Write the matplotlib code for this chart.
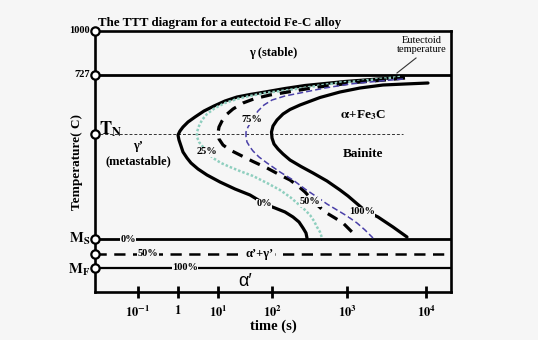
import matplotlib
matplotlib.use("Agg")
import matplotlib.pyplot as plt

plt.rcParams['mathtext.fontset'] = 'stix'
SERIF = ['Liberation Serif', 'DejaVu Serif']

# ---- schematic coordinates: x = position along (log) time axis, y = schematic temperature ----
tick_pos = [43, 83, 123, 177, 252, 331]
tick_labels = [r'$\mathbf{10^{-1}}$', r'$\mathbf{1}$', r'$\mathbf{10^{1}}$',
               r'$\mathbf{10^{2}}$', r'$\mathbf{10^{3}}$', r'$\mathbf{10^{4}}$']

T_top, T_eut, T_N, T_Ms, T_M50, T_Mf = 261, 217, 158, 53, 38, 24

c0_x = [308, 290, 270, 250, 230, 210, 190, 170, 155, 142, 130, 119, 109, 100, 93, 88, 85, 83,
        84, 86, 88, 92, 96, 103, 112, 125, 140, 155, 165, 172, 180, 190, 198, 204, 208, 211, 212]
c0_y = [215, 213.5, 212, 210.5, 208.5, 206.5, 203.5, 200, 197.5, 195, 191, 186, 181, 175, 170, 165, 161, 157,
        152, 146, 140, 134, 129, 123, 117, 110, 103, 97, 91, 87, 84, 80, 75, 70, 64, 59, 54]

c25_x = [305, 280, 260, 245, 225, 208, 190, 170, 155, 142, 130, 120, 112, 107, 104, 102, 102, 104,
         108, 112, 118, 126, 135, 146, 158, 172, 185, 195, 202, 209, 215, 219, 222, 225, 227]
c25_y = [215, 212.5, 210.5, 209.5, 206.5, 204, 201.5, 199, 196, 193, 189, 184, 178, 172, 166, 160, 155, 150,
         145, 140, 134, 129, 125, 120.5, 116, 109, 102, 95, 89, 83, 77, 71, 65, 60, 54]

c50_x = [310, 290, 265, 240, 220, 205, 190, 175, 160, 148, 138, 131, 127, 124, 123, 124, 128, 135,
         145, 158, 172, 185, 195, 203, 210, 219, 230, 240, 248, 255, 262]
c50_y = [214, 212, 210, 207, 204.5, 202, 199.5, 197, 193.5, 189, 183, 177, 171, 165, 159, 153, 147, 142,
         137, 130.5, 124, 117, 112, 106, 100, 90, 80, 74, 69, 62, 55]

c75_x = [308, 285, 255, 230, 205, 190, 177, 169, 163, 159, 156, 153, 151, 151, 152, 155, 158, 164,
         172, 185, 198, 210, 222, 232, 242, 252, 262, 270, 278]
c75_y = [213, 211, 208, 204, 199, 196, 192, 187, 181, 175, 170, 165, 160, 155, 150, 145, 141, 135,
         129, 120, 112, 103, 95, 88, 82, 76, 69, 62, 54]

c100_x = [333, 310, 288, 265, 245, 225, 205, 195, 188, 182, 178, 176.5, 177, 179, 183, 188, 195,
          206, 218, 232, 245, 253, 260, 267, 275, 283, 298, 312]
c100_y = [209, 208, 207, 204, 200, 194.5, 187, 182.5, 178, 172, 166, 160, 154, 148, 143, 138, 132,
          125.5, 119, 111, 102, 96, 90, 84, 79, 75, 65, 55]

curve_labels = ['0%', '25%', '50%', '75%', '100%']
curve_label_x = [169, 112, 215, 157, 267]
curve_label_y = [88, 140, 90, 172, 80]

mart_labels = ['0%', '50%', '100%']
mart_label_x = [33, 53, 90]

fig = plt.figure(figsize=(5.38, 3.40), dpi=100)
fig.patch.set_facecolor('#f6f6f6')
ax = fig.add_axes([95/538, 48/340, 356/538, 261/340])
ax.set_facecolor('#f6f6f6')
ax.set_xlim(0, 356)
ax.set_ylim(0, 261)

for s in ax.spines.values():
    s.set_linewidth(1.9)
    s.set_color('black')
    s.set_zorder(5)

ax.set_yticks([])
ax.set_xticks(tick_pos)
ax.set_xticklabels(tick_labels, fontsize=9)
ax.tick_params(axis='x', direction='inout', length=8, width=2, pad=5, colors='black')

# horizontal lines
ax.axhline(T_eut, color='black', lw=2.0, zorder=3)
ax.axhline(T_Ms, color='black', lw=2.0, zorder=3)
ax.axhline(T_Mf, color='black', lw=1.6, zorder=3)
ax.axhline(T_M50, color='black', lw=1.8, ls=(0, (4.5, 3)), zorder=3)
ax.plot([0, 308], [T_N, T_N], color='#333333', lw=0.7, ls=(0, (3, 2)), zorder=2)

# C-curves
ax.plot(c0_x, c0_y, color='black', lw=2.3, solid_joinstyle='round', solid_capstyle='round', zorder=4)
ax.plot(c25_x, c25_y, color='#8fcfbf', lw=1.8, ls=(0, (1, 0.8)), zorder=4)
ax.plot(c50_x, c50_y, color='black', lw=2.3, ls=(0, (3.5, 2.5)), zorder=4)
ax.plot(c75_x, c75_y, color='#4a40a8', lw=1.1, ls=(0, (4, 2)), zorder=4)
ax.plot(c100_x, c100_y, color='black', lw=2.3, solid_joinstyle='round', solid_capstyle='round', zorder=4)

bb = dict(facecolor='#f6f6f6', edgecolor='none', pad=0.3)
for lab, x, y in zip(curve_labels, curve_label_x, curve_label_y):
    ax.text(x, y, lab, family=SERIF, fontweight='bold', fontsize=7.5, ha='center', va='center',
            bbox=bb, zorder=6)

for lab, x, y in zip(mart_labels, mart_label_x, [T_Ms, T_M50, T_Mf]):
    ax.text(x, y, lab, family=SERIF, fontweight='bold', fontsize=7.5, ha='center', va='center',
            bbox=bb, zorder=6)

# circles on the left axis
ax.plot([0]*6, [T_top, T_eut, T_N, T_Ms, T_M50, T_Mf], 'o', ms=6, mfc='white', mec='black',
        mew=1.6, clip_on=False, zorder=7)

# region labels
ax.text(178, 239, 'γ (stable)', family=SERIF, fontweight='bold', fontsize=9, ha='center', va='center')
ax.text(43, 146, 'γ’', family=SERIF, fontweight='bold', fontsize=9, ha='center', va='center')
ax.text(43, 131, '(metastable)', family=SERIF, fontweight='bold', fontsize=9, ha='center', va='center')
ax.text(268, 177, r'$\mathbf{\alpha}$+Fe$_\mathbf{3}$C', family=SERIF, fontweight='bold', fontsize=9.5,
        ha='center', va='center')
ax.text(268, 138, 'Bainite', family=SERIF, fontweight='bold', fontsize=9.5, ha='center', va='center')
ax.text(165, 38, 'α’+γ’', family=SERIF, fontweight='bold', fontsize=9, ha='center', va='center',
        bbox=dict(facecolor='#f6f6f6', edgecolor='none', pad=1), zorder=6)
ax.text(150, 10, 'α′', family=['Liberation Sans', 'DejaVu Sans'], fontsize=13, ha='center', va='center')
ax.text(4, 163, r'$\mathbf{T_N}$', fontsize=13, ha='left', va='center')

# eutectoid annotation
ax.text(327, 247, 'Eutectoid\ntemperature', family=SERIF, fontsize=7.5, ha='center', va='center',
        linespacing=1.0)
ax.plot([321, 302], [234, 219], color='#333333', lw=0.8)

# left labels
for lab, y, fs in [('1000', T_top, 7.5), ('727', T_eut, 7.5)]:
    ax.text(-5, y, lab, family=SERIF, fontweight='bold', fontsize=fs, ha='right', va='center', clip_on=False)
ax.text(-5, T_Ms, r'$\mathbf{M_S}$', fontsize=10.5, ha='right', va='center', clip_on=False)
ax.text(-5, T_Mf - 2, r'$\mathbf{M_F}$', fontsize=10.5, ha='right', va='center', clip_on=False)

ax.text(-18, 130, 'Temperature( C)', family=SERIF, fontweight='bold', fontsize=9.5, rotation=90,
        ha='center', va='center', clip_on=False)
ax.text(178, -34, 'time (s)', family=SERIF, fontweight='bold', fontsize=10.5, ha='center', va='center',
        clip_on=False)
ax.text(3, 263, 'The TTT diagram for a eutectoid Fe-C alloy', family=SERIF, fontweight='bold',
        fontsize=9.3, ha='left', va='bottom', clip_on=False)

fig.savefig('out.png', dpi=100, facecolor=fig.get_facecolor())
